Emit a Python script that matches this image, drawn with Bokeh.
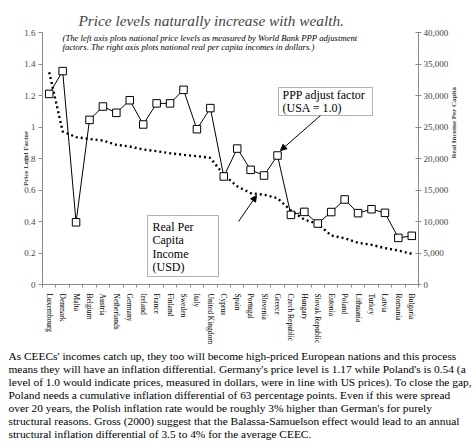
import math
import numpy as np
from bokeh.plotting import figure
from bokeh.models import Range1d, LinearAxis, FixedTicker, Label, BoxAnnotation, Arrow, NormalHead, Title
from bokeh.embed import file_html
from bokeh.resources import INLINE

countries = ["Luxembourg", "Denmark", "Malta", "Belgium", "Austria", "Netherlands",
             "Germany", "Ireland", "France", "Finland", "Sweden", "Italy",
             "United Kingdom", "Cyprus", "Spain", "Portugal", "Slovenia", "Greece",
             "Czech Republic", "Hungary", "Slovak Republic", "Estonia", "Poland",
             "Lithuania", "Turkey", "Latvia", "Romania", "Bulgaria"]
price_level = [1.21, 1.355, 0.395, 1.045, 1.13, 1.09, 1.17, 1.016, 1.15, 1.15,
               1.236, 0.986, 1.12, 0.686, 0.863, 0.728, 0.692, 0.819, 0.442, 0.461,
               0.387, 0.46, 0.54, 0.453, 0.478, 0.455, 0.296, 0.309]
income = [33700, 24300, 23400, 23100, 22860, 22170, 21900, 21430, 21160, 20840,
          20580, 20370, 20100, 17400, 15600, 14500, 14240, 13700, 11750, 10300,
          9630, 7780, 7350, 6620, 6300, 5770, 5400, 4870]
left_ticks = [0, 0.2, 0.4, 0.6, 0.8, 1.0, 1.2, 1.4, 1.6]
left_tick_labels = ["0", "0.2", "0.4", "0.6", "0.8", "1", "1.2", "1.4", "1.6"]
right_ticks = [0, 5000, 10000, 15000, 20000, 25000, 30000, 35000, 40000]
right_tick_labels = ["0", "5,000", "10,000", "15,000", "20,000", "25,000",
                     "30,000", "35,000", "40,000"]

title_text = "Price levels naturally increase with wealth."
subtitle_lines = ["(The left axis plots national price levels as measured by World Bank PPP adjustment",
                  "factors. The right axis plots national real per capita incomes in dollars.)"]
ppp_box_lines = ["PPP adjust factor", "(USA = 1.0)"]
inc_box_lines = ["Real Per", "Capita", "Income", "(USD)"]
paragraph = [
    "As CEECs' incomes catch up, they too will become high-priced European nations and this process",
    "means they will have an inflation differential. Germany's price level is 1.17 while Poland's is 0.54 (a",
    "level of 1.0 would indicate prices, measured in dollars, were in line with US prices). To close the gap,",
    "Poland needs a cumulative inflation differential of 63 percentage points. Even if this were spread",
    "over 20 years, the Polish inflation rate would be roughly 3% higher than German's for purely",
    "structural reasons. Gross (2000) suggest that the Balassa-Samuelson effect would lead to an annual",
    "structural inflation differential of 3.5 to 4% for the average CEEC.",
]

W, H = 474, 447
FL, FR, FT, FB = 42, 56, 32, 163
n = len(countries)
FW = W - FL - FR
FH = H - FT - FB
YMAX = 1.6
FONT = "Liberation Serif"


def X(px):
    return (px - FL) / FW * n


def Y(py):
    return (FT + FH - py) / FH * YMAX


xc = np.arange(n) + 0.5

p = figure(width=W, height=H, output_backend="svg", toolbar_location=None,
           x_range=Range1d(0, n), y_range=Range1d(0, YMAX),
           x_axis_location=None, y_axis_location=None,
           min_border_left=FL, min_border_right=FR, min_border_top=FT, min_border_bottom=FB)
p.extra_y_ranges = {"inc": Range1d(0, 40000)}
p.outline_line_color = None
p.grid.visible = False
p.background_fill_color = "white"
p.border_fill_color = "white"

p.title.text = title_text
p.title.text_font = FONT
p.title.text_font_size = "15.3px"
p.title.text_font_style = "italic"
p.title.align = "left"
p.title.offset = 36
p.title.standoff = 8

AXC = "#8a8a8a"

xaxis = LinearAxis(ticker=FixedTicker(ticks=list(xc), minor_ticks=list(range(n + 1))))
xaxis.major_label_overrides = {float(x): c for x, c in zip(xc, countries)}
xaxis.major_label_orientation = -math.pi / 2
xaxis.major_tick_in = 0
xaxis.major_tick_out = 0
xaxis.minor_tick_in = 0
xaxis.minor_tick_out = 3
xaxis.axis_line_color = AXC
xaxis.minor_tick_line_color = AXC
xaxis.major_label_standoff = 6
xaxis.major_label_text_font = FONT
xaxis.major_label_text_font_size = "7.5px"
xaxis.major_label_text_color = "black"
p.add_layout(xaxis, "below")

laxis = LinearAxis(ticker=FixedTicker(ticks=left_ticks), axis_label="Price Level Factor")
laxis.major_label_overrides = {float(t): s for t, s in zip(left_ticks, left_tick_labels)}
laxis.major_tick_in = 0
laxis.major_tick_out = 4
laxis.minor_tick_line_color = None
laxis.axis_line_color = AXC
laxis.major_tick_line_color = AXC
laxis.major_label_standoff = 3
laxis.major_label_text_font = FONT
laxis.major_label_text_font_size = "9px"
laxis.axis_label_text_font = FONT
laxis.axis_label_text_font_size = "7px"
laxis.axis_label_text_font_style = "bold"
laxis.axis_label_standoff = -9
p.add_layout(laxis, "left")

raxis = LinearAxis(y_range_name="inc", ticker=FixedTicker(ticks=right_ticks),
                   axis_label="Real Income Per Capita")
raxis.major_label_overrides = {float(t): s for t, s in zip(right_ticks, right_tick_labels)}
raxis.major_tick_in = 3
raxis.major_tick_out = 3
raxis.minor_tick_line_color = None
raxis.axis_line_color = AXC
raxis.major_tick_line_color = AXC
raxis.major_label_standoff = 2
raxis.major_label_text_font = FONT
raxis.major_label_text_font_size = "9px"
raxis.axis_label_text_font = FONT
raxis.axis_label_text_font_size = "7px"
raxis.axis_label_text_font_style = "bold"
raxis.axis_label_standoff = 3
try:
    raxis.axis_label_orientation = math.pi / 2
except AttributeError:
    pass
p.add_layout(raxis, "right")

p.line(xc, income, y_range_name="inc", line_color="black", line_width=2.4, line_dash="2 3")
p.line(xc, price_level, line_color="black", line_width=1)
p.scatter(xc, price_level, marker="square", size=7.5, fill_color="white", line_color="black", line_width=1)


def lab(px, py, text, size="11px", style="normal", align="left", baseline="middle", angle=0):
    p.add_layout(Label(x=X(px), y=Y(py), text=text, text_font=FONT, text_font_size=size,
                       text_font_style=style, text_align=align, text_baseline=baseline,
                       angle=angle, text_color="black"))


lab(62, 37, subtitle_lines[0], size="8.7px", style="italic", baseline="alphabetic")
lab(62, 46, subtitle_lines[1], size="8.7px", style="italic", baseline="alphabetic")

# PPP box
p.add_layout(BoxAnnotation(left=X(278), right=X(372), top=Y(87), bottom=Y(115),
                           fill_color="white", fill_alpha=1, line_color="black", line_width=1))
lab(282, 94.5, ppp_box_lines[0], size="12px")
lab(282, 107.5, ppp_box_lines[1], size="12px")
p.add_layout(Arrow(x_start=X(320), y_start=Y(115), x_end=X(280), y_end=Y(150),
                   line_color="black", line_width=1,
                   end=NormalHead(size=6, fill_color="black", line_color="black")))

# income box
p.add_layout(BoxAnnotation(left=X(147), right=X(218), top=Y(215), bottom=Y(276),
                           fill_color="white", fill_alpha=1, line_color="black", line_width=1))
for i, t in enumerate(inc_box_lines):
    lab(152, 226 + 13.5 * i, t, size="12px")
p.add_layout(Arrow(x_start=X(238), y_start=Y(221), x_end=X(256), y_end=Y(195),
                   line_color="black", line_width=1,
                   end=NormalHead(size=6, fill_color="black", line_color="black")))

for i, t in enumerate(paragraph):
    p.add_layout(Title(text=t, text_font=FONT, text_font_size="11.4px", text_font_style="normal",
                       align="left", offset=-34, standoff=(0 if i == 0 else -1.5),
                       text_color="black"), "below")

open("out.html", "w").write(file_html(p, INLINE))
